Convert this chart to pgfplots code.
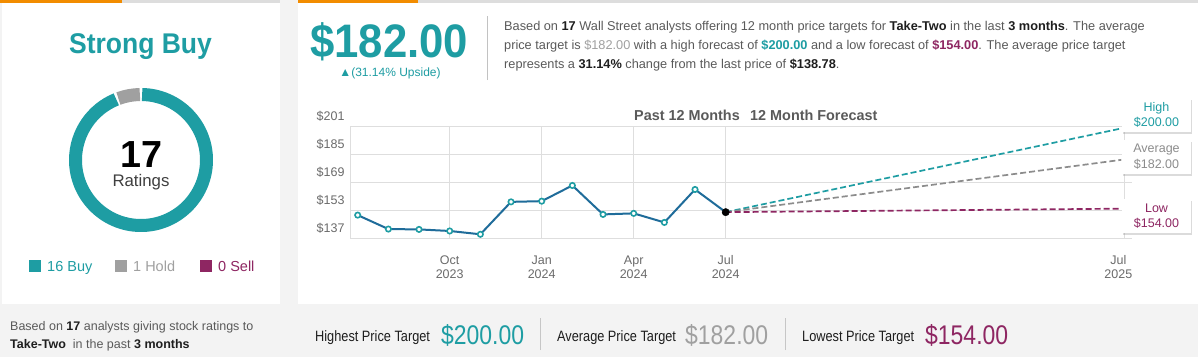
\documentclass[border=0pt]{standalone}
\usepackage{pgfplots}
\pgfplotsset{compat=1.18}
\usepackage{fontspec}
\setmainfont{Liberation Sans}
\newfontfamily\cond[FakeStretch=0.85]{Liberation Sans}
\newfontfamily\semi[FakeStretch=0.93]{Liberation Sans}
\usetikzlibrary{shadows}
\newcommand{\fs}[1]{\fontsize{#1}{#1}\selectfont}
\definecolor{tealc}{RGB}{30,157,163}
\definecolor{lineblue}{RGB}{31,108,154}
\definecolor{purp}{RGB}{142,38,98}
\definecolor{holdgray}{RGB}{160,160,160}
\definecolor{avggray}{RGB}{140,140,140}
\definecolor{orangec}{RGB}{242,140,0}
\definecolor{gridc}{RGB}{222,222,222}
\definecolor{txtgray}{RGB}{90,90,90}
\definecolor{pagebg}{RGB}{243,243,243}
\definecolor{topbar}{RGB}{221,221,221}
\definecolor{darktxt}{RGB}{30,30,30}
\newcommand{\bk}[1]{{\color{darktxt}\bfseries #1}}
\pgfmathsetmacro\nbuy{16}
\pgfmathsetmacro\nhold{1}
\pgfmathsetmacro\nsell{0}
\begin{document}
\begin{tikzpicture}[x=1pt,y=1pt]
\useasboundingbox (0,0) rectangle (1198,357);
\fill[pagebg] (0,0) rectangle (1198,357);
% panels
\fill[white] (2,53) rectangle (280,354);
\fill[topbar] (0,353.5) rectangle (280,357);
\fill[orangec] (0,353.5) rectangle (122,357);
\fill[white] (298,53) rectangle (1198,354);
\fill[topbar] (298,353.5) rectangle (1198,357);
\fill[orangec] (298,353.5) rectangle (418,357);
% header
\node[anchor=base west, inner sep=0, text=tealc, font=\semi\bfseries\fs{47}] at (310,300) {\$182.00};
\node[anchor=base, inner sep=0, text=tealc, font=\fs{12}] at (390,280) {▲(31.14\% Upside)};
\draw[gridc!70!gray, line width=1pt] (487,277) -- (487,341);
\node[anchor=base west, inner sep=0, text=txtgray, font=\fs{12.75}] at (504,326) {Based on \bk{17} Wall Street analysts offering 12 month price targets for \bk{Take-Two} in the last \bk{3 months}. The average};
\node[anchor=base west, inner sep=0, text=txtgray, font=\fs{12.75}] at (504,307.5) {price target is {\color{holdgray}\$182.00} with a high forecast of {\color{tealc}\bfseries\$200.00} and a low forecast of {\color{purp}\bfseries\$154.00}. The average price target};
\node[anchor=base west, inner sep=0, text=txtgray, font=\fs{12.75}] at (504,289) {represents a \bk{31.14\%} change from the last price of \bk{\$138.78}.};
% chart
\begin{axis}[at={(350pt,118.7pt)}, anchor=south west, scale only axis,
  width=781.7pt, height=111.6pt,
  xmin=-0.251, xmax=25.24, ymin=137, ymax=201,
  axis x line*=bottom, axis y line*=left,
  axis line style={gridc, line width=1pt, -},
  ytick={137,153,169,185,201}, yticklabels={\$137,\$153,\$169,\$185,\$201},
  xtick={3,6,9,12}, xticklabels={Oct\\2023,Jan\\2024,Apr\\2024,Jul\\2024},
  extra x ticks={25}, extra x tick labels={Jul\\2025},
  extra x tick style={grid=major, xticklabel style={xshift=-6pt}},
  xmajorgrids, ymajorgrids, grid style={gridc, line width=1pt},
  major tick length=0pt,
  tick label style={font=\fontsize{12.5}{14}\selectfont, text=txtgray!90},
  xticklabel style={align=center, yshift=-14pt},
  yticklabel style={yshift=10pt, xshift=-2pt},
  clip=false]
\addplot[lineblue, line width=2pt, mark=*, mark indices={1,2,3,4,5,6,7,8,9,10,11,12}, mark size=2.7pt,
  mark options={fill=white, draw=tealc, line width=1.6pt, solid}]
  coordinates {(0,150.3)(1,142.3)(2,142.1)(3,141.2)(4,139.3)(5,157.9)(6,158.3)(7,167.3)(8,150.7)(9,151.3)(10,146.1)(11,165)(12,152)};
\addplot[tealc, line width=1.7pt, dash pattern=on 6pt off 3pt] coordinates {(12,152) (24.9,200)};
\addplot[avggray, line width=1.7pt, dash pattern=on 6pt off 3pt] coordinates {(12,152) (24.9,182)};
\addplot[purp, line width=1.7pt, dash pattern=on 6pt off 3pt] coordinates {(12,152) (24.9,154)};
\addplot[only marks, mark=*, mark size=3.7pt, black] coordinates {(12,152)};
\end{axis}
\node[anchor=base east, inner sep=0, text=txtgray, font=\bfseries\fs{14.4}] at (740,237) {Past 12 Months};
\node[anchor=base west, inner sep=0, text=txtgray, font=\bfseries\fs{14.4}] at (750,237) {12 Month Forecast};
% label boxes
\tikzset{lbl/.style={fill=white, minimum width=69pt, minimum height=34pt, inner sep=0, align=center,
  drop shadow={shadow xshift=1pt, shadow yshift=-2pt, opacity=0.28},
  font=\fontsize{12.5}{15.6}\selectfont}}
\node[lbl, text=tealc] at (1156.5,242) {High\\\$200.00};
\node[lbl, text=avggray] at (1156.5,200.5) {Average\\\$182.00};
\node[lbl, text=purp] at (1156.5,141) {Low\\\$154.00};
% left panel
\node[anchor=base, inner sep=0, text=tealc, font=\semi\bfseries\fs{28.5}] at (140.5,304) {Strong Buy};
\pgfmathsetmacro\ntot{\nbuy+\nhold+\nsell}
\pgfmathsetmacro\buyang{360*\nbuy/\ntot}
\pgfmathsetmacro\tend{90-\buyang+1}
\pgfmathsetmacro\gstart{90-\buyang-1+360}
\draw[tealc, line width=13pt] (141,197) ++(89:65.5) arc[start angle=89, end angle=\tend, radius=65.5];
\draw[holdgray, line width=13pt] (141,197) ++(\gstart:65.5) arc[start angle=\gstart, end angle=91, radius=65.5];
\node[anchor=base, inner sep=0, font=\bfseries\fs{37.7}, text=black] at (141.5,190) {17};
\node[anchor=base, inner sep=0, font=\fs{16.8}, text=txtgray!70!black] at (141,171) {Ratings};
\fill[tealc] (29,85) rectangle (41,97);
\node[anchor=base west, inner sep=0, text=tealc, font=\fs{14.5}] at (47,85.3) {16 Buy};
\fill[holdgray] (115,85) rectangle (127,97);
\node[anchor=base west, inner sep=0, text=holdgray, font=\fs{14.5}] at (133,85.3) {1 Hold};
\fill[purp] (200,85) rectangle (212,97);
\node[anchor=base west, inner sep=0, text=purp, font=\fs{14.5}] at (218,85.3) {0 Sell};
\node[anchor=base west, inner sep=0, text=txtgray, font=\fs{12.5}] at (10,27) {Based on \bk{17} analysts giving stock ratings to};
\node[anchor=base west, inner sep=0, text=txtgray, font=\fs{12.5}] at (10,8.7) {\bk{Take-Two}\ \ in the past \bk{3 months}};
% bottom strip
\node[anchor=base west, inner sep=0, text=darktxt, font=\cond\fs{15}] at (315,16) {Highest Price Target};
\node[anchor=base west, inner sep=0, text=tealc, font=\cond\fs{27}] at (441,13) {\$200.00};
\draw[gray!45, line width=0.8pt] (540,7) -- (540,39);
\node[anchor=base west, inner sep=0, text=darktxt, font=\cond\fs{15}] at (557,16) {Average Price Target};
\node[anchor=base west, inner sep=0, text=holdgray, font=\cond\fs{27}] at (685,13) {\$182.00};
\draw[gray!45, line width=0.8pt] (785,7) -- (785,39);
\node[anchor=base west, inner sep=0, text=darktxt, font=\cond\fs{15}] at (802,16) {Lowest Price Target};
\node[anchor=base west, inner sep=0, text=purp, font=\cond\fs{27}] at (925,13) {\$154.00};
\end{tikzpicture}
\end{document}
